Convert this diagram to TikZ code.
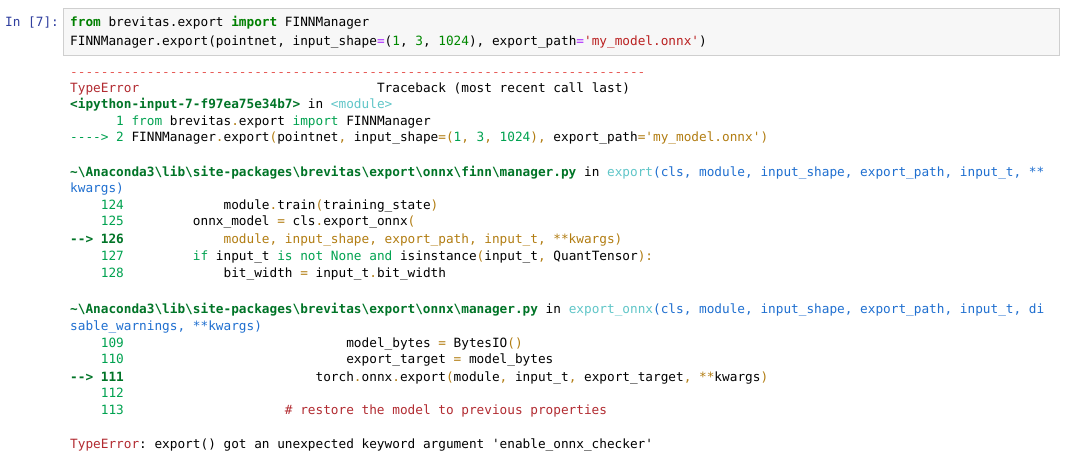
\documentclass[tikz,border=0pt]{standalone}
\usepackage{fontspec}
\setmainfont{DejaVu Sans}
\setmonofont{DejaVu Sans Mono}
\definecolor{kw}{HTML}{008000}
\definecolor{pu}{HTML}{AA22FF}
\definecolor{nm}{HTML}{008800}
\definecolor{st}{HTML}{BA2121}
\definecolor{gr}{HTML}{00A250}
\definecolor{gb}{HTML}{007427}
\definecolor{cy}{HTML}{60C6C8}
\definecolor{bl}{HTML}{1F6FD0}
\definecolor{ye}{HTML}{B27D12}
\definecolor{rd}{HTML}{E75C58}
\definecolor{cm}{HTML}{B22B31}
\definecolor{pr}{HTML}{303F9F}
\newcommand\K[1]{\textcolor{kw}{\bfseries #1}}
\newcommand\G[1]{\textcolor{gr}{#1}}
\newcommand\GB[1]{\textcolor{gb}{\bfseries #1}}
\newcommand\C[1]{\textcolor{cy}{#1}}
\newcommand\B[1]{\textcolor{bl}{#1}}
\newcommand\Y[1]{\textcolor{ye}{#1}}
\newcommand\R[1]{\textcolor{rd}{#1}}
\newcommand\RD[1]{\textcolor{cm}{#1}}
\newcommand\bs{\textbackslash}
\newcommand\us{\_}
\newcounter{ln}
\newcommand\Lin[3]{\stepcounter{ln}\node[txt] (t\theln) at ({70+#2*7.67},{-(#1+4)}) {#3};}
\begin{document}
\begin{tikzpicture}[x=1pt,y=1pt,
  txt/.style={anchor=base west,inner sep=0pt,font=\ttfamily\fontsize{12.74}{15}\selectfont}]
\useasboundingbox (0,0) rectangle (1073,-469);
\fill[white] (0,0) rectangle (1073,-469);
\draw[fill={rgb,255:red,247;green,247;blue,247},draw={rgb,255:red,207;green,207;blue,207}] (63,-8) rectangle (1059,-55);
\node[anchor=base west,inner sep=0pt,font=\ttfamily\fontsize{12.74}{15}\selectfont,text=pr] (prompt) at (5,-26) {In [7]:};
\Lin{22}{0}{\K{from} brevitas.export \K{import} FINNManager}
\Lin{41}{0}{FINNManager.export(pointnet, input\us shape\textcolor{pu}{=}(\textcolor{nm}{1}, \textcolor{nm}{3}, \textcolor{nm}{1024}), export\us path\textcolor{pu}{=}\textcolor{st}{'my\us model.onnx'})}
\Lin{72}{0}{\R{---------------------------------------------------------------------------}}
\Lin{88}{0}{\RD{TypeError}}
\Lin{88}{40}{Traceback (most recent call last)}
\Lin{104}{0}{\GB{<ipython-input-7-f97ea75e34b7>} in \C{<module>}}
\Lin{121}{6}{\G{1} \G{from} brevitas\Y{.}export \G{import} FINNManager}
\Lin{137}{0}{\G{----> 2} FINNManager\Y{.}export\Y{(}pointnet\Y{,} input\us shape\Y{=(}\G{1}\Y{,} \G{3}\Y{,} \G{1024}\Y{),} export\us path\Y{=}\Y{'my\us model.onnx'}\Y{)}}
\Lin{172}{0}{\GB{\textasciitilde\bs Anaconda3\bs lib\bs site-packages\bs brevitas\bs export\bs onnx\bs finn\bs manager.py} in \C{export}\B{(cls, module, input\us shape, export\us path, input\us t, **}}
\Lin{188}{0}{\B{kwargs)}}
\Lin{205}{4}{\G{124}}\Lin{205}{20}{module\Y{.}train\Y{(}training\us state\Y{)}}
\Lin{221}{4}{\G{125}}\Lin{221}{16}{onnx\us model \Y{=} cls\Y{.}export\us onnx\Y{(}}
\Lin{239}{0}{\GB{--> 126}}\Lin{239}{20}{\Y{module, input\us shape, export\us path, input\us t, **kwargs)}}
\Lin{256}{4}{\G{127}}\Lin{256}{16}{\G{if} input\us t \G{is} \G{not} \G{None} \G{and} isinstance\Y{(}input\us t\Y{,} QuantTensor\Y{):}}
\Lin{273}{4}{\G{128}}\Lin{273}{20}{bit\us width \Y{=} input\us t\Y{.}bit\us width}
\Lin{309}{0}{\GB{\textasciitilde\bs Anaconda3\bs lib\bs site-packages\bs brevitas\bs export\bs onnx\bs manager.py} in \C{export\us onnx}\B{(cls, module, input\us shape, export\us path, input\us t, di}}
\Lin{326}{0}{\B{sable\us warnings, **kwargs)}}
\Lin{343}{4}{\G{109}}\Lin{343}{36}{model\us bytes \Y{=} BytesIO\Y{()}}
\Lin{359}{4}{\G{110}}\Lin{359}{36}{export\us target \Y{=} model\us bytes}
\Lin{377}{0}{\GB{--> 111}}\Lin{377}{32}{torch\Y{.}onnx\Y{.}export\Y{(}module\Y{,} input\us t\Y{,} export\us target\Y{,} \Y{**}kwargs\Y{)}}
\Lin{393}{4}{\G{112}}
\Lin{410}{4}{\G{113}}\Lin{410}{28}{\RD{\# restore the model to previous properties}}
\Lin{444}{0}{\RD{TypeError}: export() got an unexpected keyword argument 'enable\us onnx\us checker'}
\end{tikzpicture}
\end{document}
